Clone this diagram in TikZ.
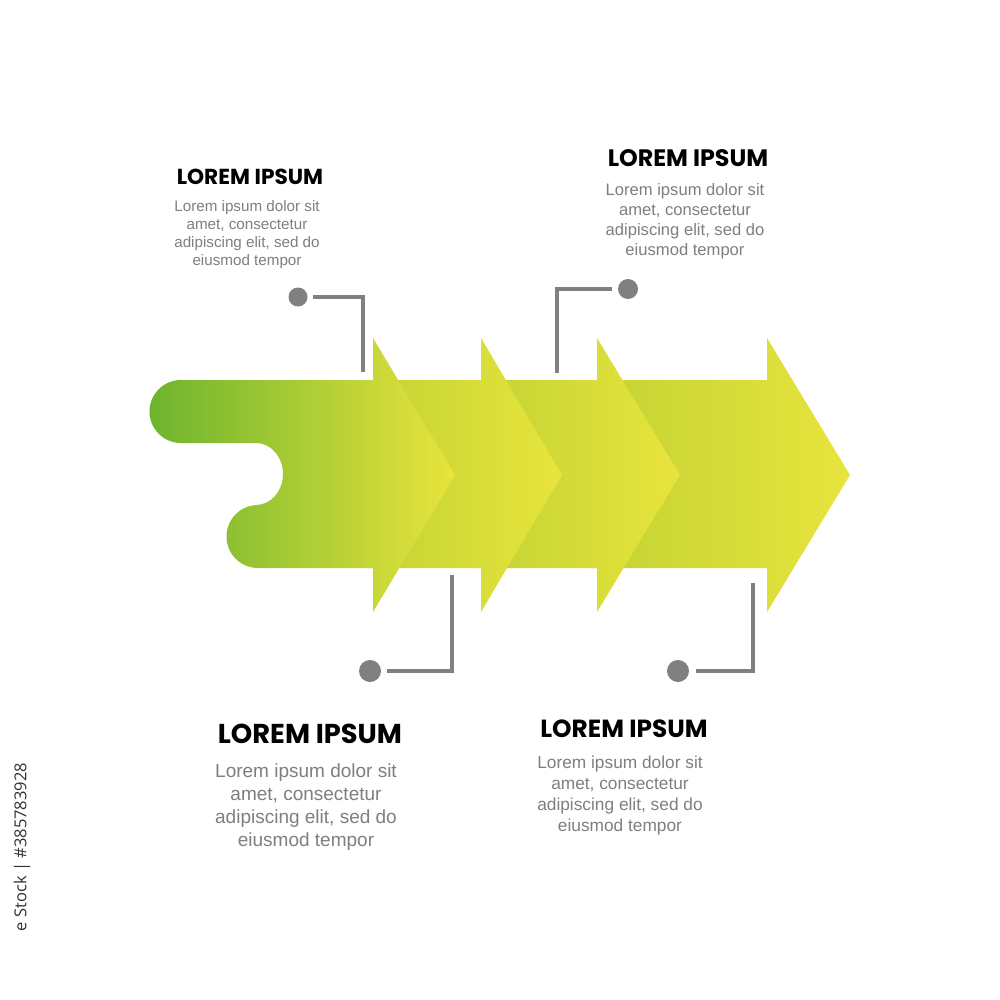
\documentclass[tikz,border=0pt]{standalone}
\usepackage{fontspec}
\usepackage{tikz}
\usetikzlibrary{calc}
\setmainfont{Liberation Sans}
\newfontfamily\titlefont{Poppins}
\newfontfamily\bodyfont{Liberation Sans}
\newfontfamily\markfont{Open Sans}
\definecolor{leafgreen}{HTML}{6DB42E}
\definecolor{limegreen}{HTML}{BCD132}
\definecolor{chevgreen}{HTML}{C2D334}
\definecolor{lemon}{HTML}{E8E43C}
\definecolor{lngray}{HTML}{808080}
\definecolor{txtgray}{HTML}{7F7F7F}
\definecolor{markgray}{HTML}{333333}

\tikzset{
  headtext/.style={font=\titlefont\bfseries\fontsize{#1}{#1}\selectfont, text=black, inner sep=0pt},
  bodytext/.style 2 args={font=\bodyfont\fontsize{#1}{#2}\selectfont, text=txtgray, align=center, inner sep=0pt},
  knob/.style={circle, fill=lngray, inner sep=0pt, minimum size=#1},
  link/.style={draw=lngray, line width=4pt}
}

\begin{document}
\begin{tikzpicture}[x=1pt,y=-1pt]
    \fill[white] (0,0) rectangle (1000,1000);
    \useasboundingbox (0,0) rectangle (1000,1000);

    % Chevrons, back to front
    \foreach \xs/\xb/\xt in {590/767/850, 475/597/680, 365/481/562}{
        \shade[left color=chevgreen, right color=lemon]
            (\xs,380) -- (\xb,380) -- (\xb,338) -- (\xt,475) -- (\xb,612)
            -- (\xb,568) -- (\xs,568) -- cycle;
    }

    % Rounded tail with the first chevron
    \shade[left color=leafgreen, middle color=limegreen, right color=lemon]
        (181,380) -- (373,380) -- (373,338) -- (455,475) -- (373,612)
        -- (373,568) -- (258,568)
        arc[start angle=90, end angle=270, radius=31.5]
        -- (256,505)
        arc[start angle=90, end angle=-90, x radius=27, y radius=31]
        -- (181,443)
        arc[start angle=90, end angle=270, radius=31.5]
        -- cycle;

    % Pointers
    \node[knob=19] (d1) at (298,297) {};
    \coordinate (e1) at (363,372);
    \draw[link] ([xshift=5]d1.east) -| (e1);

    \node[knob=20] (d2) at (628,289) {};
    \coordinate (e2) at (557,373);
    \draw[link] ([xshift=-6]d2.west) -| (e2);

    \node[knob=22] (d3) at (370,671) {};
    \coordinate (e3) at (452,575);
    \draw[link] ([xshift=6]d3.east) -| (e3);

    \node[knob=22] (d4) at (678,671) {};
    \coordinate (e4) at (753,583);
    \draw[link] ([xshift=7]d4.east) -| (e4);

    % Text blocks
    \node[headtext=21.7] (h1) at (250,177) {LOREM IPSUM};
    \node[bodytext={15.2}{18}] (b1) at (247,235)
        {Lorem ipsum dolor sit\\amet, consectetur\\adipiscing elit, sed do\\eiusmod tempor};

    \node[headtext=23.8] (h2) at (688,158) {LOREM IPSUM};
    \node[bodytext={16.6}{20}] (b2) at (685,221.5)
        {Lorem ipsum dolor sit\\amet, consectetur\\adipiscing elit, sed do\\eiusmod tempor};

    \node[headtext=27.3] (h3) at (310,734) {LOREM IPSUM};
    \node[bodytext={19}{23}] (b3) at (306,807)
        {Lorem ipsum dolor sit\\amet, consectetur\\adipiscing elit, sed do\\eiusmod tempor};

    \node[headtext=24.8] (h4) at (624,729) {LOREM IPSUM};
    \node[bodytext={17.3}{21}] (b4) at (620,795.5)
        {Lorem ipsum dolor sit\\amet, consectetur\\adipiscing elit, sed do\\eiusmod tempor};

    % Side mark
    \node[rotate=90, font=\markfont\fontsize{16.5}{16.5}\selectfont, text=markgray, inner sep=0pt] (mk) at (22,847) {e Stock | \#385783928};
\end{tikzpicture}
\end{document}
